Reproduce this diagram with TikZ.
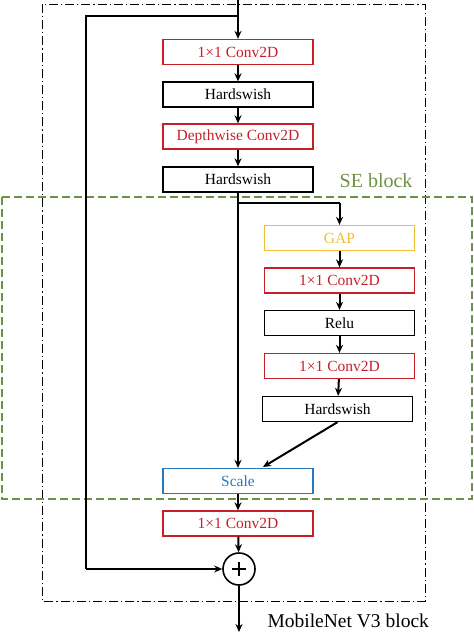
\documentclass[tikz,border=0pt]{standalone}
\usepackage{fontspec}
\setmainfont{Liberation Serif}
\usetikzlibrary{arrows.meta}
\definecolor{cred}{RGB}{200,30,40}
\definecolor{cyel}{RGB}{240,190,50}
\definecolor{cblue}{RGB}{40,120,190}
\definecolor{cgreen}{RGB}{110,145,70}
\begin{document}
\begin{tikzpicture}[x=1pt,y=-1pt,
  blk/.style={draw,line width=1.3pt,minimum width=150pt,minimum height=25pt,inner sep=0pt,font=\fontsize{15.5}{17}\selectfont},
  redblk/.style={blk,draw=cred,text=cred},
  arr/.style={line width=2pt,-{Stealth[length=8pt,width=7pt]}},
  ln/.style={line width=2pt}]
\useasboundingbox (0,0) rectangle (474,632);
% frames
\draw[line width=1pt,dash pattern=on 9pt off 3pt on 1.2pt off 3pt] (42,4) rectangle (425,601);
\draw[cgreen,line width=1.3pt,dash pattern=on 8pt off 4pt] (2,197) rectangle (472,499);
\node[text=cgreen,font=\fontsize{20}{22}\selectfont,anchor=base east] (selabel) at (416,187) {SE block};
\node[font=\fontsize{19.5}{22}\selectfont,anchor=base west] (mblabel) at (264,627) {MobileNet V3 block};
% main column
\node[redblk] (b1) at (238,52) {1×1 Conv2D};
\node[blk] (b2) at (238,94.5) {Hardswish};
\node[redblk] (b3) at (238,136.5) {Depthwise Conv2D};
\node[blk] (b4) at (238,179.5) {Hardswish};
\node[blk,draw=cblue,text=cblue] (sc) at (238,481) {Scale};
\node[redblk] (b5) at (238,523.5) {1×1 Conv2D};
\node[draw,circle,line width=1.6pt,minimum size=32pt,inner sep=0pt] (plus) at (239,569) {};
\draw[line width=1.8pt] (plus.center) ++(-7,0) -- ++(14,0) (plus.center) ++(0,-7) -- ++(0,14);
% SE column
\node[blk,draw=cyel,text=cyel] (gap) at (339.5,238) {GAP};
\node[redblk] (c1) at (339.5,280.5) {1×1 Conv2D};
\node[blk] (relu) at (339.5,323) {Relu};
\node[redblk] (c2) at (339.5,366) {1×1 Conv2D};
\node[blk] (hs) at (337.5,409) {Hardswish};
% coordinates
\coordinate (top) at (238,0);
\coordinate (skipA) at (238,16);
\coordinate (skipB) at (86,16);
\coordinate (skipC) at (86,569);
\coordinate (split) at (238,203);
\coordinate (splitR) at (339.5,203);
\coordinate (bot) at (239,632);
\coordinate (hsend) at (263,467);
% connectors
\draw[arr] (top) -- (b1);
\draw[ln] (skipA) -- (skipB) -- (skipC);
\draw[arr] (skipC) -- (plus);
\draw[arr] (b1) -- (b2);
\draw[arr] (b2) -- (b3);
\draw[arr] (b3) -- (b4);
\draw[arr] (b4) -- (sc);
\draw[ln] (split) -- (splitR);
\draw[arr] (splitR) -- (gap);
\draw[arr] (gap) -- (c1);
\draw[arr] (c1) -- (relu);
\draw[arr] (relu) -- (c2);
\draw[arr] (c2) -- (hs);
\draw[arr] (hs.south) -- (hsend);
\draw[arr] (sc) -- (b5);
\draw[arr] (b5) -- (plus);
\draw[arr] (plus) -- (bot);
\end{tikzpicture}
\end{document}
